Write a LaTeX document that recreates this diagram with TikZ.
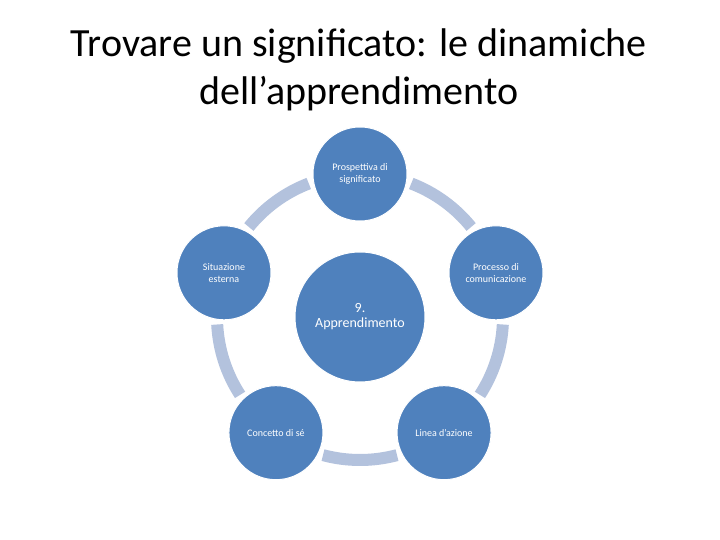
\documentclass[tikz,border=0pt]{standalone}
\usepackage{fontspec}
\setmainfont{Carlito}
\usepackage{tikz}
\usetikzlibrary{positioning, shapes}

\definecolor{cycleblue}{HTML}{4F81BD}
\definecolor{ringblue}{HTML}{B3C2DD}

\tikzset{
  item/.style={circle, fill=cycleblue, draw=white, line width=1pt,
    minimum size=94pt, inner sep=0pt, align=center, text=white,
    font=\fontsize{10}{12}\selectfont},
  hub/.style={item, minimum size=130pt, font=\fontsize{14}{15}\selectfont},
  ring/.style={draw=ringblue, line width=12pt}
}

\begin{document}
\begin{tikzpicture}[x=1pt, y=1pt]

% Manually size the picture
\useasboundingbox (0, 0) rectangle (720, 540);

% Title
\node[align=center, inner sep=0pt, font=\fontsize{40}{48}\selectfont] (title) at (359, 470)
  {Trovare un significato: le dinamiche\\dell’apprendimento};

% Middle of the cycle
\coordinate (ctr) at (360, 223);

% Ring pieces between the outer circles
\foreach \a in {90, 18, -54, -126, -198} {
  \draw[ring] ([shift={(\a-21:143)}]ctr) arc[start angle=\a-21, end angle=\a-51, radius=143];
}

% Centre circle
\node[hub] (learn) at (ctr) {9.\\Apprendimento};

% Outer circles
\node[item] (meaning) at ([shift={(90:143)}]ctr) {Prospettiva di\\significato};
\node[item] (comm) at ([shift={(18:143)}]ctr) {Processo di\\comunicazione};
\node[item] (action) at ([shift={(-54:143)}]ctr) {Linea d’azione};
\node[item] (self) at ([shift={(-126:143)}]ctr) {Concetto di sé};
\node[item] (situation) at ([shift={(-198:143)}]ctr) {Situazione\\esterna};

\end{tikzpicture}
\end{document}
